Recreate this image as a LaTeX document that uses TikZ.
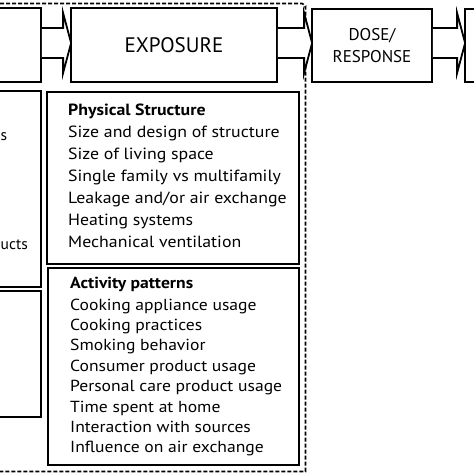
\documentclass[tikz,border=0pt]{standalone}
\usepackage{fontspec}
\setmainfont[FakeStretch=1.1]{PT Sans}
\newfontfamily\plainfont{PT Sans}
\usetikzlibrary{calc}
\begin{document}
\begin{tikzpicture}[x=1pt,y=-1pt,
  box/.style={draw, line width=1.8pt, fill=white, inner sep=0pt},
  arr/.style={draw, line width=1.8pt, fill=white, line join=miter},
  dashbound/.style={draw, line width=1.6pt, dash pattern=on 4pt off 2pt},
  line/.style={anchor=base west, inner sep=0pt, font=\fontsize{16.2}{19}\selectfont},
  head/.style={line, font=\fontsize{16.2}{19}\selectfont\bfseries},
  aline/.style={anchor=base west, inner sep=0pt, font=\fontsize{16}{19}\selectfont},
  ahead/.style={aline, font=\fontsize{16}{19}\selectfont\bfseries},
  cut/.style={anchor=base west, inner sep=0pt, font=\plainfont\fontsize{15.5}{19}\selectfont}]
\useasboundingbox (0,0) rectangle (474,474);
\clip (0,0) rectangle (474,474);
% dashed boundary
\draw[dashbound] (0,3.5) -- (302,3.5) to[out=0,in=-90] (305.5,7) -- (305.5,471.5) -- (0,471.5);
% top row boxes
\node[box, minimum width=50pt, minimum height=74pt] (prev) at (16,45) {};
\node[box, minimum width=206pt, minimum height=74pt, font=\plainfont\fontsize{21}{26}\selectfont] (exp) at (174,45) {EXPOSURE};
\node[box, minimum width=120pt, minimum height=73pt, align=center, font=\plainfont\fontsize{17}{21.5}\selectfont] (dose) at (372,45.5) {DOSE/\\RESPONSE};
\node[box, minimum width=30pt, minimum height=73pt] (next) at (480,45.5) {};
% arrows
\foreach \a/\b in {prev/exp, exp/dose, dose/next}{
  \draw[arr] let \p1=(\a.east), \p2=(\b.west) in
    (\x1,28) -- (\x2-7,28) -- (\x2-7,13) -- (\x2+1,43) -- (\x2-7,73) -- (\x2-7,58) -- (\x1,58);
}
% left column boxes
\node[box, minimum width=56pt, minimum height=196pt] (lefta) at (13,189) {};
\node[box, minimum width=56pt, minimum height=126pt] (leftb) at (13,354) {};
\node[cut] (ls) at (0.5,140) {s};
\node[cut] (lucts) at (0.5,249) {ucts};
% physical structure
\node[box, minimum width=252pt, minimum height=172pt] (phys) at (173,178) {};
\node[head] (p0) at (68,115) {Physical Structure};
\node[line] (p1) at (68,137) {Size and design of structure};
\node[line] (p2) at (68,159) {Size of living space};
\node[line] (p3) at (68,181) {Single family vs multifamily};
\node[line] (p4) at (68,203) {Leakage and/or air exchange};
\node[line] (p5) at (68,225) {Heating systems};
\node[line] (p6) at (68,247) {Mechanical ventilation};
% activity patterns
\node[box, minimum width=251pt, minimum height=197pt] (act) at (173.5,366.5) {};
\node[ahead] (a0) at (70,288) {Activity patterns};
\node[aline] (a1) at (70,310) {Cooking appliance usage};
\node[aline] (a2) at (70,330.4) {Cooking practices};
\node[aline] (a3) at (70,350.8) {Smoking behavior};
\node[aline] (a4) at (70,371.2) {Consumer product usage};
\node[aline] (a5) at (70,391.6) {Personal care product usage};
\node[aline] (a6) at (70,412) {Time spent at home};
\node[aline] (a7) at (70,432.4) {Interaction with sources};
\node[aline] (a8) at (70,452.8) {Influence on air exchange};
\end{tikzpicture}
\end{document}
